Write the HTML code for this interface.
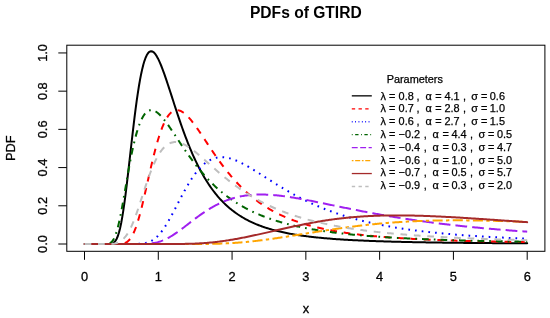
<!DOCTYPE html>
<html><head><meta charset="utf-8"><title>PDFs of GTIRD</title>
<style>
html,body{margin:0;padding:0;background:#fff;}
svg{display:block;font-family:"Liberation Sans",sans-serif;fill:#000;}
.c{fill:none;stroke-linejoin:round;}
.ax{fill:none;stroke:#000;stroke-width:1;stroke-linecap:butt;}
.t{font-size:12.8px;stroke:#000;stroke-width:0.3px;}
.l{font-size:10.9px;stroke:#000;stroke-width:0.25px;}
</style></head><body>
<svg width="550" height="318" viewBox="0 0 550 318">
<rect width="550" height="318" fill="#fff"/>
<polyline class="c" stroke="#000000" stroke-width="2.0" stroke-linecap="round" points="84.58,244.00 85.69,244.00 86.80,244.00 87.91,244.00 89.02,244.00 90.13,244.00 91.24,244.00 92.35,244.00 93.46,244.00 94.56,244.00 95.67,244.00 96.78,244.00 97.89,244.00 99.00,244.00 100.11,244.00 101.22,244.00 102.33,244.00 103.44,244.00 104.55,244.00 105.66,244.00 106.77,244.00 107.88,243.99 108.99,243.96 110.10,243.89 111.20,243.73 112.31,243.42 113.42,242.87 114.53,241.97 115.64,240.61 116.75,238.65 117.86,235.99 118.97,232.53 120.08,228.20 121.19,222.98 122.30,216.87 123.41,209.92 124.52,202.18 125.63,193.77 126.73,184.79 127.84,175.39 128.95,165.70 130.06,155.86 131.17,146.01 132.28,136.27 133.39,126.78 134.50,117.63 135.61,108.91 136.72,100.69 137.83,93.05 138.94,86.02 140.05,79.64 141.16,73.92 142.26,68.88 143.37,64.51 144.48,60.81 145.59,57.75 146.70,55.32 147.81,53.48 148.92,52.20 150.03,51.46 151.14,51.21 152.25,51.43 153.36,52.07 154.47,53.09 155.58,54.47 156.69,56.17 157.80,58.15 158.90,60.39 160.01,62.85 161.12,65.51 162.23,68.34 163.34,71.31 164.45,74.40 165.56,77.59 166.67,80.86 167.78,84.20 168.89,87.58 170.00,91.00 171.11,94.43 172.22,97.87 173.33,101.31 174.43,104.73 175.54,108.14 176.65,111.51 177.76,114.85 178.87,118.14 179.98,121.39 181.09,124.59 182.20,127.74 183.31,130.83 184.42,133.86 185.53,136.83 186.64,139.73 187.75,142.57 188.86,145.35 189.96,148.05 191.07,150.70 192.18,153.28 193.29,155.79 194.40,158.24 195.51,160.62 196.62,162.94 197.73,165.19 198.84,167.39 199.95,169.52 201.06,171.59 202.17,173.60 203.28,175.56 204.39,177.45 205.50,179.30 206.60,181.09 207.71,182.82 208.82,184.51 209.93,186.14 211.04,187.73 212.15,189.27 213.26,190.76 214.37,192.20 215.48,193.61 216.59,194.97 217.70,196.29 218.81,197.57 219.92,198.81 221.03,200.01 222.13,201.18 223.24,202.31 224.35,203.41 225.46,204.48 226.57,205.51 227.68,206.51 228.79,207.48 229.90,208.42 231.01,209.34 232.12,210.22 233.23,211.08 234.34,211.92 235.45,212.73 236.56,213.51 237.66,214.28 238.77,215.01 239.88,215.73 240.99,216.43 242.10,217.11 243.21,217.76 244.32,218.40 245.43,219.02 246.54,219.62 247.65,220.20 248.76,220.77 249.87,221.32 250.98,221.85 252.09,222.37 253.20,222.88 254.30,223.37 255.41,223.85 256.52,224.31 257.63,224.76 258.74,225.20 259.85,225.62 260.96,226.04 262.07,226.44 263.18,226.83 264.29,227.21 265.40,227.58 266.51,227.94 267.62,228.29 268.73,228.64 269.83,228.97 270.94,229.29 272.05,229.61 273.16,229.91 274.27,230.21 275.38,230.50 276.49,230.78 277.60,231.06 278.71,231.33 279.82,231.59 280.93,231.84 282.04,232.09 283.15,232.34 284.26,232.57 285.36,232.80 286.47,233.03 287.58,233.24 288.69,233.46 289.80,233.66 290.91,233.87 292.02,234.06 293.13,234.26 294.24,234.45 295.35,234.63 296.46,234.81 297.57,234.98 298.68,235.15 299.79,235.32 300.90,235.48 302.00,235.64 303.11,235.80 304.22,235.95 305.33,236.10 306.44,236.24 307.55,236.38 308.66,236.52 309.77,236.65 310.88,236.79 311.99,236.91 313.10,237.04 314.21,237.16 315.32,237.28 316.43,237.40 317.53,237.51 318.64,237.63 319.75,237.74 320.86,237.84 321.97,237.95 323.08,238.05 324.19,238.15 325.30,238.25 326.41,238.35 327.52,238.44 328.63,238.53 329.74,238.62 330.85,238.71 331.96,238.80 333.06,238.88 334.17,238.97 335.28,239.05 336.39,239.13 337.50,239.20 338.61,239.28 339.72,239.35 340.83,239.43 341.94,239.50 343.05,239.57 344.16,239.64 345.27,239.71 346.38,239.77 347.49,239.84 348.60,239.90 349.70,239.96 350.81,240.02 351.92,240.08 353.03,240.14 354.14,240.20 355.25,240.26 356.36,240.31 357.47,240.36 358.58,240.42 359.69,240.47 360.80,240.52 361.91,240.57 363.02,240.62 364.13,240.67 365.23,240.72 366.34,240.76 367.45,240.81 368.56,240.85 369.67,240.90 370.78,240.94 371.89,240.98 373.00,241.03 374.11,241.07 375.22,241.11 376.33,241.15 377.44,241.19 378.55,241.22 379.66,241.26 380.76,241.30 381.87,241.33 382.98,241.37 384.09,241.40 385.20,241.44 386.31,241.47 387.42,241.51 388.53,241.54 389.64,241.57 390.75,241.60 391.86,241.63 392.97,241.66 394.08,241.69 395.19,241.72 396.29,241.75 397.40,241.78 398.51,241.81 399.62,241.83 400.73,241.86 401.84,241.89 402.95,241.91 404.06,241.94 405.17,241.97 406.28,241.99 407.39,242.01 408.50,242.04 409.61,242.06 410.72,242.09 411.83,242.11 412.93,242.13 414.04,242.15 415.15,242.18 416.26,242.20 417.37,242.22 418.48,242.24 419.59,242.26 420.70,242.28 421.81,242.30 422.92,242.32 424.03,242.34 425.14,242.36 426.25,242.38 427.36,242.40 428.46,242.41 429.57,242.43 430.68,242.45 431.79,242.47 432.90,242.48 434.01,242.50 435.12,242.52 436.23,242.53 437.34,242.55 438.45,242.57 439.56,242.58 440.67,242.60 441.78,242.61 442.89,242.63 443.99,242.64 445.10,242.66 446.21,242.67 447.32,242.68 448.43,242.70 449.54,242.71 450.65,242.73 451.76,242.74 452.87,242.75 453.98,242.77 455.09,242.78 456.20,242.79 457.31,242.80 458.42,242.82 459.53,242.83 460.63,242.84 461.74,242.85 462.85,242.86 463.96,242.88 465.07,242.89 466.18,242.90 467.29,242.91 468.40,242.92 469.51,242.93 470.62,242.94 471.73,242.95 472.84,242.96 473.95,242.97 475.06,242.98 476.16,242.99 477.27,243.00 478.38,243.01 479.49,243.02 480.60,243.03 481.71,243.04 482.82,243.05 483.93,243.06 485.04,243.07 486.15,243.08 487.26,243.08 488.37,243.09 489.48,243.10 490.59,243.11 491.69,243.12 492.80,243.13 493.91,243.14 495.02,243.14 496.13,243.15 497.24,243.16 498.35,243.17 499.46,243.17 500.57,243.18 501.68,243.19 502.79,243.20 503.90,243.20 505.01,243.21 506.12,243.22 507.23,243.22 508.33,243.23 509.44,243.24 510.55,243.25 511.66,243.25 512.77,243.26 513.88,243.27 514.99,243.27 516.10,243.28 517.21,243.28 518.32,243.29 519.43,243.30 520.54,243.30 521.65,243.31 522.76,243.31 523.86,243.32 524.97,243.33 526.08,243.33 527.19,243.34"/>
<polyline class="c" stroke="#ff0000" stroke-width="2.0" stroke-dasharray="6.72,6.72" points="84.58,244.00 85.69,244.00 86.80,244.00 87.91,244.00 89.02,244.00 90.13,244.00 91.24,244.00 92.35,244.00 93.46,244.00 94.56,244.00 95.67,244.00 96.78,244.00 97.89,244.00 99.00,244.00 100.11,244.00 101.22,244.00 102.33,244.00 103.44,244.00 104.55,244.00 105.66,244.00 106.77,244.00 107.88,244.00 108.99,244.00 110.10,244.00 111.20,244.00 112.31,244.00 113.42,244.00 114.53,244.00 115.64,244.00 116.75,243.99 117.86,243.98 118.97,243.95 120.08,243.90 121.19,243.82 122.30,243.69 123.41,243.48 124.52,243.17 125.63,242.72 126.73,242.12 127.84,241.32 128.95,240.29 130.06,239.01 131.17,237.45 132.28,235.58 133.39,233.40 134.50,230.89 135.61,228.06 136.72,224.92 137.83,221.46 138.94,217.72 140.05,213.71 141.16,209.47 142.26,205.03 143.37,200.41 144.48,195.67 145.59,190.82 146.70,185.92 147.81,180.99 148.92,176.07 150.03,171.19 151.14,166.39 152.25,161.70 153.36,157.13 154.47,152.71 155.58,148.47 156.69,144.42 157.80,140.58 158.90,136.95 160.01,133.55 161.12,130.38 162.23,127.45 163.34,124.76 164.45,122.31 165.56,120.11 166.67,118.14 167.78,116.40 168.89,114.89 170.00,113.60 171.11,112.53 172.22,111.67 173.33,111.01 174.43,110.54 175.54,110.25 176.65,110.13 177.76,110.17 178.87,110.37 179.98,110.72 181.09,111.20 182.20,111.81 183.31,112.53 184.42,113.37 185.53,114.30 186.64,115.33 187.75,116.45 188.86,117.64 189.96,118.90 191.07,120.22 192.18,121.61 193.29,123.04 194.40,124.52 195.51,126.04 196.62,127.59 197.73,129.17 198.84,130.78 199.95,132.41 201.06,134.05 202.17,135.71 203.28,137.38 204.39,139.05 205.50,140.72 206.60,142.40 207.71,144.08 208.82,145.75 209.93,147.41 211.04,149.07 212.15,150.71 213.26,152.34 214.37,153.96 215.48,155.57 216.59,157.16 217.70,158.73 218.81,160.29 219.92,161.82 221.03,163.34 222.13,164.83 223.24,166.31 224.35,167.76 225.46,169.20 226.57,170.61 227.68,172.00 228.79,173.36 229.90,174.71 231.01,176.03 232.12,177.33 233.23,178.60 234.34,179.86 235.45,181.09 236.56,182.30 237.66,183.48 238.77,184.65 239.88,185.79 240.99,186.91 242.10,188.01 243.21,189.09 244.32,190.14 245.43,191.18 246.54,192.19 247.65,193.19 248.76,194.16 249.87,195.11 250.98,196.05 252.09,196.96 253.20,197.86 254.30,198.74 255.41,199.60 256.52,200.44 257.63,201.27 258.74,202.08 259.85,202.87 260.96,203.64 262.07,204.40 263.18,205.14 264.29,205.87 265.40,206.58 266.51,207.27 267.62,207.95 268.73,208.62 269.83,209.27 270.94,209.91 272.05,210.54 273.16,211.15 274.27,211.75 275.38,212.34 276.49,212.91 277.60,213.47 278.71,214.02 279.82,214.56 280.93,215.09 282.04,215.60 283.15,216.11 284.26,216.60 285.36,217.09 286.47,217.56 287.58,218.03 288.69,218.48 289.80,218.93 290.91,219.36 292.02,219.79 293.13,220.21 294.24,220.62 295.35,221.02 296.46,221.41 297.57,221.79 298.68,222.17 299.79,222.54 300.90,222.90 302.00,223.25 303.11,223.60 304.22,223.94 305.33,224.27 306.44,224.60 307.55,224.92 308.66,225.23 309.77,225.54 310.88,225.84 311.99,226.13 313.10,226.42 314.21,226.70 315.32,226.98 316.43,227.25 317.53,227.52 318.64,227.78 319.75,228.04 320.86,228.29 321.97,228.53 323.08,228.77 324.19,229.01 325.30,229.24 326.41,229.47 327.52,229.69 328.63,229.91 329.74,230.13 330.85,230.34 331.96,230.55 333.06,230.75 334.17,230.95 335.28,231.14 336.39,231.33 337.50,231.52 338.61,231.71 339.72,231.89 340.83,232.07 341.94,232.24 343.05,232.41 344.16,232.58 345.27,232.74 346.38,232.91 347.49,233.07 348.60,233.22 349.70,233.37 350.81,233.53 351.92,233.67 353.03,233.82 354.14,233.96 355.25,234.10 356.36,234.24 357.47,234.37 358.58,234.51 359.69,234.64 360.80,234.77 361.91,234.89 363.02,235.02 364.13,235.14 365.23,235.26 366.34,235.37 367.45,235.49 368.56,235.60 369.67,235.71 370.78,235.82 371.89,235.93 373.00,236.04 374.11,236.14 375.22,236.25 376.33,236.35 377.44,236.44 378.55,236.54 379.66,236.64 380.76,236.73 381.87,236.83 382.98,236.92 384.09,237.01 385.20,237.09 386.31,237.18 387.42,237.27 388.53,237.35 389.64,237.43 390.75,237.51 391.86,237.59 392.97,237.67 394.08,237.75 395.19,237.83 396.29,237.90 397.40,237.98 398.51,238.05 399.62,238.12 400.73,238.19 401.84,238.26 402.95,238.33 404.06,238.40 405.17,238.46 406.28,238.53 407.39,238.59 408.50,238.65 409.61,238.72 410.72,238.78 411.83,238.84 412.93,238.90 414.04,238.96 415.15,239.01 416.26,239.07 417.37,239.13 418.48,239.18 419.59,239.24 420.70,239.29 421.81,239.34 422.92,239.39 424.03,239.45 425.14,239.50 426.25,239.55 427.36,239.60 428.46,239.64 429.57,239.69 430.68,239.74 431.79,239.78 432.90,239.83 434.01,239.88 435.12,239.92 436.23,239.96 437.34,240.01 438.45,240.05 439.56,240.09 440.67,240.13 441.78,240.17 442.89,240.21 443.99,240.25 445.10,240.29 446.21,240.33 447.32,240.37 448.43,240.41 449.54,240.44 450.65,240.48 451.76,240.52 452.87,240.55 453.98,240.59 455.09,240.62 456.20,240.66 457.31,240.69 458.42,240.72 459.53,240.76 460.63,240.79 461.74,240.82 462.85,240.85 463.96,240.88 465.07,240.91 466.18,240.94 467.29,240.97 468.40,241.00 469.51,241.03 470.62,241.06 471.73,241.09 472.84,241.12 473.95,241.15 475.06,241.17 476.16,241.20 477.27,241.23 478.38,241.25 479.49,241.28 480.60,241.30 481.71,241.33 482.82,241.35 483.93,241.38 485.04,241.40 486.15,241.43 487.26,241.45 488.37,241.48 489.48,241.50 490.59,241.52 491.69,241.54 492.80,241.57 493.91,241.59 495.02,241.61 496.13,241.63 497.24,241.65 498.35,241.67 499.46,241.70 500.57,241.72 501.68,241.74 502.79,241.76 503.90,241.78 505.01,241.80 506.12,241.82 507.23,241.83 508.33,241.85 509.44,241.87 510.55,241.89 511.66,241.91 512.77,241.93 513.88,241.95 514.99,241.96 516.10,241.98 517.21,242.00 518.32,242.02 519.43,242.03 520.54,242.05 521.65,242.07 522.76,242.08 523.86,242.10 524.97,242.11 526.08,242.13 527.19,242.15"/>
<polyline class="c" stroke="#0000ff" stroke-width="2.0" stroke-dasharray="1.68,5.04" points="84.58,244.00 85.69,244.00 86.80,244.00 87.91,244.00 89.02,244.00 90.13,244.00 91.24,244.00 92.35,244.00 93.46,244.00 94.56,244.00 95.67,244.00 96.78,244.00 97.89,244.00 99.00,244.00 100.11,244.00 101.22,244.00 102.33,244.00 103.44,244.00 104.55,244.00 105.66,244.00 106.77,244.00 107.88,244.00 108.99,244.00 110.10,244.00 111.20,244.00 112.31,244.00 113.42,244.00 114.53,244.00 115.64,244.00 116.75,244.00 117.86,244.00 118.97,244.00 120.08,244.00 121.19,244.00 122.30,244.00 123.41,244.00 124.52,244.00 125.63,244.00 126.73,244.00 127.84,244.00 128.95,244.00 130.06,244.00 131.17,244.00 132.28,243.99 133.39,243.99 134.50,243.98 135.61,243.96 136.72,243.94 137.83,243.91 138.94,243.87 140.05,243.81 141.16,243.73 142.26,243.62 143.37,243.48 144.48,243.30 145.59,243.07 146.70,242.80 147.81,242.47 148.92,242.07 150.03,241.61 151.14,241.07 152.25,240.44 153.36,239.74 154.47,238.94 155.58,238.05 156.69,237.06 157.80,235.98 158.90,234.81 160.01,233.54 161.12,232.17 162.23,230.72 163.34,229.17 164.45,227.55 165.56,225.84 166.67,224.06 167.78,222.21 168.89,220.30 170.00,218.34 171.11,216.33 172.22,214.27 173.33,212.19 174.43,210.07 175.54,207.94 176.65,205.80 177.76,203.65 178.87,201.50 179.98,199.37 181.09,197.24 182.20,195.14 183.31,193.07 184.42,191.03 185.53,189.03 186.64,187.06 187.75,185.15 188.86,183.29 189.96,181.47 191.07,179.72 192.18,178.03 193.29,176.40 194.40,174.83 195.51,173.33 196.62,171.89 197.73,170.53 198.84,169.23 199.95,168.01 201.06,166.85 202.17,165.77 203.28,164.75 204.39,163.80 205.50,162.93 206.60,162.12 207.71,161.38 208.82,160.70 209.93,160.09 211.04,159.54 212.15,159.06 213.26,158.63 214.37,158.27 215.48,157.96 216.59,157.71 217.70,157.51 218.81,157.36 219.92,157.27 221.03,157.22 222.13,157.22 223.24,157.27 224.35,157.36 225.46,157.49 226.57,157.66 227.68,157.87 228.79,158.11 229.90,158.39 231.01,158.71 232.12,159.05 233.23,159.42 234.34,159.82 235.45,160.25 236.56,160.70 237.66,161.18 238.77,161.68 239.88,162.20 240.99,162.74 242.10,163.29 243.21,163.86 244.32,164.45 245.43,165.06 246.54,165.67 247.65,166.30 248.76,166.94 249.87,167.59 250.98,168.25 252.09,168.92 253.20,169.60 254.30,170.28 255.41,170.97 256.52,171.66 257.63,172.36 258.74,173.06 259.85,173.76 260.96,174.47 262.07,175.18 263.18,175.89 264.29,176.60 265.40,177.31 266.51,178.02 267.62,178.73 268.73,179.44 269.83,180.15 270.94,180.85 272.05,181.55 273.16,182.25 274.27,182.95 275.38,183.64 276.49,184.33 277.60,185.02 278.71,185.70 279.82,186.38 280.93,187.05 282.04,187.72 283.15,188.39 284.26,189.04 285.36,189.70 286.47,190.35 287.58,190.99 288.69,191.62 289.80,192.26 290.91,192.88 292.02,193.50 293.13,194.11 294.24,194.72 295.35,195.32 296.46,195.92 297.57,196.51 298.68,197.09 299.79,197.67 300.90,198.24 302.00,198.80 303.11,199.36 304.22,199.91 305.33,200.46 306.44,200.99 307.55,201.53 308.66,202.05 309.77,202.57 310.88,203.09 311.99,203.59 313.10,204.09 314.21,204.59 315.32,205.08 316.43,205.56 317.53,206.04 318.64,206.51 319.75,206.97 320.86,207.43 321.97,207.88 323.08,208.33 324.19,208.77 325.30,209.21 326.41,209.64 327.52,210.06 328.63,210.48 329.74,210.89 330.85,211.30 331.96,211.70 333.06,212.10 334.17,212.49 335.28,212.88 336.39,213.26 337.50,213.63 338.61,214.01 339.72,214.37 340.83,214.73 341.94,215.09 343.05,215.44 344.16,215.78 345.27,216.13 346.38,216.46 347.49,216.79 348.60,217.12 349.70,217.45 350.81,217.76 351.92,218.08 353.03,218.39 354.14,218.69 355.25,219.00 356.36,219.29 357.47,219.59 358.58,219.88 359.69,220.16 360.80,220.44 361.91,220.72 363.02,220.99 364.13,221.26 365.23,221.53 366.34,221.79 367.45,222.05 368.56,222.31 369.67,222.56 370.78,222.81 371.89,223.05 373.00,223.29 374.11,223.53 375.22,223.77 376.33,224.00 377.44,224.23 378.55,224.45 379.66,224.67 380.76,224.89 381.87,225.11 382.98,225.32 384.09,225.53 385.20,225.74 386.31,225.95 387.42,226.15 388.53,226.35 389.64,226.54 390.75,226.74 391.86,226.93 392.97,227.12 394.08,227.30 395.19,227.49 396.29,227.67 397.40,227.85 398.51,228.02 399.62,228.20 400.73,228.37 401.84,228.54 402.95,228.71 404.06,228.87 405.17,229.04 406.28,229.20 407.39,229.35 408.50,229.51 409.61,229.66 410.72,229.82 411.83,229.97 412.93,230.12 414.04,230.26 415.15,230.41 416.26,230.55 417.37,230.69 418.48,230.83 419.59,230.97 420.70,231.10 421.81,231.23 422.92,231.37 424.03,231.50 425.14,231.63 426.25,231.75 427.36,231.88 428.46,232.00 429.57,232.12 430.68,232.24 431.79,232.36 432.90,232.48 434.01,232.60 435.12,232.71 436.23,232.82 437.34,232.93 438.45,233.05 439.56,233.15 440.67,233.26 441.78,233.37 442.89,233.47 443.99,233.58 445.10,233.68 446.21,233.78 447.32,233.88 448.43,233.98 449.54,234.07 450.65,234.17 451.76,234.27 452.87,234.36 453.98,234.45 455.09,234.54 456.20,234.63 457.31,234.72 458.42,234.81 459.53,234.90 460.63,234.98 461.74,235.07 462.85,235.15 463.96,235.24 465.07,235.32 466.18,235.40 467.29,235.48 468.40,235.56 469.51,235.64 470.62,235.71 471.73,235.79 472.84,235.86 473.95,235.94 475.06,236.01 476.16,236.09 477.27,236.16 478.38,236.23 479.49,236.30 480.60,236.37 481.71,236.44 482.82,236.50 483.93,236.57 485.04,236.64 486.15,236.70 487.26,236.77 488.37,236.83 489.48,236.90 490.59,236.96 491.69,237.02 492.80,237.08 493.91,237.14 495.02,237.20 496.13,237.26 497.24,237.32 498.35,237.38 499.46,237.43 500.57,237.49 501.68,237.55 502.79,237.60 503.90,237.66 505.01,237.71 506.12,237.76 507.23,237.82 508.33,237.87 509.44,237.92 510.55,237.97 511.66,238.02 512.77,238.07 513.88,238.12 514.99,238.17 516.10,238.22 517.21,238.27 518.32,238.32 519.43,238.36 520.54,238.41 521.65,238.46 522.76,238.50 523.86,238.55 524.97,238.59 526.08,238.63 527.19,238.68"/>
<polyline class="c" stroke="#006400" stroke-width="2.0" stroke-dasharray="1.68,5.04,6.72,5.04" points="84.58,244.00 85.69,244.00 86.80,244.00 87.91,244.00 89.02,244.00 90.13,244.00 91.24,244.00 92.35,244.00 93.46,244.00 94.56,244.00 95.67,244.00 96.78,244.00 97.89,244.00 99.00,244.00 100.11,244.00 101.22,244.00 102.33,244.00 103.44,244.00 104.55,243.99 105.66,243.98 106.77,243.93 107.88,243.82 108.99,243.58 110.10,243.14 111.20,242.41 112.31,241.28 113.42,239.67 114.53,237.49 115.64,234.70 116.75,231.28 117.86,227.24 118.97,222.61 120.08,217.46 121.19,211.87 122.30,205.93 123.41,199.72 124.52,193.36 125.63,186.92 126.73,180.50 127.84,174.16 128.95,167.98 130.06,162.02 131.17,156.31 132.28,150.90 133.39,145.81 134.50,141.06 135.61,136.67 136.72,132.64 137.83,128.98 138.94,125.68 140.05,122.74 141.16,120.15 142.26,117.89 143.37,115.95 144.48,114.32 145.59,112.98 146.70,111.92 147.81,111.12 148.92,110.57 150.03,110.24 151.14,110.12 152.25,110.20 153.36,110.46 154.47,110.89 155.58,111.47 156.69,112.19 157.80,113.03 158.90,113.99 160.01,115.05 161.12,116.21 162.23,117.45 163.34,118.76 164.45,120.14 165.56,121.58 166.67,123.06 167.78,124.59 168.89,126.15 170.00,127.74 171.11,129.36 172.22,131.00 173.33,132.66 174.43,134.32 175.54,135.99 176.65,137.67 177.76,139.35 178.87,141.02 179.98,142.69 181.09,144.35 182.20,146.01 183.31,147.65 184.42,149.28 185.53,150.89 186.64,152.49 187.75,154.07 188.86,155.63 189.96,157.18 191.07,158.70 192.18,160.21 193.29,161.69 194.40,163.15 195.51,164.59 196.62,166.01 197.73,167.40 198.84,168.77 199.95,170.12 201.06,171.45 202.17,172.75 203.28,174.03 204.39,175.29 205.50,176.52 206.60,177.74 207.71,178.93 208.82,180.09 209.93,181.24 211.04,182.36 212.15,183.47 213.26,184.55 214.37,185.61 215.48,186.65 216.59,187.67 217.70,188.67 218.81,189.65 219.92,190.61 221.03,191.55 222.13,192.47 223.24,193.38 224.35,194.26 225.46,195.13 226.57,195.98 227.68,196.81 228.79,197.63 229.90,198.43 231.01,199.21 232.12,199.98 233.23,200.74 234.34,201.47 235.45,202.20 236.56,202.90 237.66,203.60 238.77,204.28 239.88,204.94 240.99,205.60 242.10,206.24 243.21,206.86 244.32,207.48 245.43,208.08 246.54,208.67 247.65,209.25 248.76,209.81 249.87,210.37 250.98,210.91 252.09,211.45 253.20,211.97 254.30,212.48 255.41,212.98 256.52,213.48 257.63,213.96 258.74,214.43 259.85,214.90 260.96,215.35 262.07,215.80 263.18,216.24 264.29,216.67 265.40,217.09 266.51,217.50 267.62,217.91 268.73,218.30 269.83,218.69 270.94,219.07 272.05,219.45 273.16,219.82 274.27,220.18 275.38,220.53 276.49,220.88 277.60,221.22 278.71,221.56 279.82,221.89 280.93,222.21 282.04,222.52 283.15,222.84 284.26,223.14 285.36,223.44 286.47,223.73 287.58,224.02 288.69,224.31 289.80,224.59 290.91,224.86 292.02,225.13 293.13,225.39 294.24,225.65 295.35,225.90 296.46,226.15 297.57,226.40 298.68,226.64 299.79,226.88 300.90,227.11 302.00,227.34 303.11,227.56 304.22,227.79 305.33,228.00 306.44,228.22 307.55,228.43 308.66,228.63 309.77,228.83 310.88,229.03 311.99,229.23 313.10,229.42 314.21,229.61 315.32,229.80 316.43,229.98 317.53,230.16 318.64,230.34 319.75,230.51 320.86,230.68 321.97,230.85 323.08,231.02 324.19,231.18 325.30,231.34 326.41,231.50 327.52,231.66 328.63,231.81 329.74,231.96 330.85,232.11 331.96,232.25 333.06,232.40 334.17,232.54 335.28,232.68 336.39,232.81 337.50,232.95 338.61,233.08 339.72,233.21 340.83,233.34 341.94,233.46 343.05,233.59 344.16,233.71 345.27,233.83 346.38,233.95 347.49,234.07 348.60,234.18 349.70,234.30 350.81,234.41 351.92,234.52 353.03,234.63 354.14,234.73 355.25,234.84 356.36,234.94 357.47,235.05 358.58,235.15 359.69,235.25 360.80,235.34 361.91,235.44 363.02,235.53 364.13,235.63 365.23,235.72 366.34,235.81 367.45,235.90 368.56,235.99 369.67,236.08 370.78,236.16 371.89,236.25 373.00,236.33 374.11,236.41 375.22,236.49 376.33,236.57 377.44,236.65 378.55,236.73 379.66,236.81 380.76,236.88 381.87,236.96 382.98,237.03 384.09,237.10 385.20,237.18 386.31,237.25 387.42,237.32 388.53,237.38 389.64,237.45 390.75,237.52 391.86,237.59 392.97,237.65 394.08,237.71 395.19,237.78 396.29,237.84 397.40,237.90 398.51,237.96 399.62,238.02 400.73,238.08 401.84,238.14 402.95,238.20 404.06,238.26 405.17,238.31 406.28,238.37 407.39,238.42 408.50,238.48 409.61,238.53 410.72,238.58 411.83,238.64 412.93,238.69 414.04,238.74 415.15,238.79 416.26,238.84 417.37,238.89 418.48,238.94 419.59,238.98 420.70,239.03 421.81,239.08 422.92,239.12 424.03,239.17 425.14,239.21 426.25,239.26 427.36,239.30 428.46,239.35 429.57,239.39 430.68,239.43 431.79,239.47 432.90,239.51 434.01,239.55 435.12,239.59 436.23,239.63 437.34,239.67 438.45,239.71 439.56,239.75 440.67,239.79 441.78,239.83 442.89,239.86 443.99,239.90 445.10,239.94 446.21,239.97 447.32,240.01 448.43,240.04 449.54,240.08 450.65,240.11 451.76,240.14 452.87,240.18 453.98,240.21 455.09,240.24 456.20,240.28 457.31,240.31 458.42,240.34 459.53,240.37 460.63,240.40 461.74,240.43 462.85,240.46 463.96,240.49 465.07,240.52 466.18,240.55 467.29,240.58 468.40,240.61 469.51,240.64 470.62,240.66 471.73,240.69 472.84,240.72 473.95,240.75 475.06,240.77 476.16,240.80 477.27,240.82 478.38,240.85 479.49,240.88 480.60,240.90 481.71,240.93 482.82,240.95 483.93,240.98 485.04,241.00 486.15,241.02 487.26,241.05 488.37,241.07 489.48,241.09 490.59,241.12 491.69,241.14 492.80,241.16 493.91,241.18 495.02,241.21 496.13,241.23 497.24,241.25 498.35,241.27 499.46,241.29 500.57,241.31 501.68,241.33 502.79,241.36 503.90,241.38 505.01,241.40 506.12,241.42 507.23,241.44 508.33,241.45 509.44,241.47 510.55,241.49 511.66,241.51 512.77,241.53 513.88,241.55 514.99,241.57 516.10,241.59 517.21,241.60 518.32,241.62 519.43,241.64 520.54,241.66 521.65,241.67 522.76,241.69 523.86,241.71 524.97,241.72 526.08,241.74 527.19,241.76"/>
<polyline class="c" stroke="#a020f0" stroke-width="2.0" stroke-dasharray="11.76,5.04" points="84.58,244.00 85.69,244.00 86.80,244.00 87.91,244.00 89.02,244.00 90.13,244.00 91.24,244.00 92.35,244.00 93.46,244.00 94.56,244.00 95.67,244.00 96.78,244.00 97.89,244.00 99.00,244.00 100.11,244.00 101.22,244.00 102.33,244.00 103.44,244.00 104.55,244.00 105.66,244.00 106.77,244.00 107.88,244.00 108.99,244.00 110.10,244.00 111.20,244.00 112.31,244.00 113.42,244.00 114.53,244.00 115.64,244.00 116.75,244.00 117.86,244.00 118.97,244.00 120.08,244.00 121.19,244.00 122.30,244.00 123.41,244.00 124.52,244.00 125.63,244.00 126.73,244.00 127.84,244.00 128.95,244.00 130.06,244.00 131.17,244.00 132.28,244.00 133.39,244.00 134.50,244.00 135.61,244.00 136.72,243.99 137.83,243.99 138.94,243.98 140.05,243.97 141.16,243.96 142.26,243.94 143.37,243.91 144.48,243.88 145.59,243.83 146.70,243.77 147.81,243.70 148.92,243.62 150.03,243.51 151.14,243.39 152.25,243.24 153.36,243.07 154.47,242.88 155.58,242.65 156.69,242.40 157.80,242.12 158.90,241.81 160.01,241.46 161.12,241.08 162.23,240.67 163.34,240.23 164.45,239.76 165.56,239.25 166.67,238.71 167.78,238.14 168.89,237.54 170.00,236.92 171.11,236.26 172.22,235.59 173.33,234.88 174.43,234.16 175.54,233.41 176.65,232.65 177.76,231.87 178.87,231.07 179.98,230.26 181.09,229.44 182.20,228.61 183.31,227.77 184.42,226.92 185.53,226.07 186.64,225.21 187.75,224.36 188.86,223.50 189.96,222.64 191.07,221.79 192.18,220.94 193.29,220.09 194.40,219.25 195.51,218.42 196.62,217.59 197.73,216.78 198.84,215.97 199.95,215.17 201.06,214.39 202.17,213.61 203.28,212.85 204.39,212.11 205.50,211.37 206.60,210.65 207.71,209.95 208.82,209.25 209.93,208.58 211.04,207.92 212.15,207.28 213.26,206.65 214.37,206.04 215.48,205.44 216.59,204.87 217.70,204.30 218.81,203.76 219.92,203.23 221.03,202.72 222.13,202.23 223.24,201.75 224.35,201.29 225.46,200.85 226.57,200.43 227.68,200.02 228.79,199.62 229.90,199.25 231.01,198.89 232.12,198.54 233.23,198.22 234.34,197.90 235.45,197.61 236.56,197.33 237.66,197.06 238.77,196.81 239.88,196.57 240.99,196.35 242.10,196.14 243.21,195.95 244.32,195.77 245.43,195.60 246.54,195.45 247.65,195.31 248.76,195.18 249.87,195.07 250.98,194.96 252.09,194.87 253.20,194.79 254.30,194.72 255.41,194.67 256.52,194.62 257.63,194.59 258.74,194.56 259.85,194.55 260.96,194.54 262.07,194.55 263.18,194.56 264.29,194.58 265.40,194.61 266.51,194.65 267.62,194.70 268.73,194.76 269.83,194.82 270.94,194.89 272.05,194.97 273.16,195.06 274.27,195.15 275.38,195.25 276.49,195.36 277.60,195.47 278.71,195.59 279.82,195.71 280.93,195.84 282.04,195.98 283.15,196.12 284.26,196.26 285.36,196.41 286.47,196.57 287.58,196.73 288.69,196.89 289.80,197.06 290.91,197.23 292.02,197.41 293.13,197.59 294.24,197.77 295.35,197.95 296.46,198.14 297.57,198.34 298.68,198.53 299.79,198.73 300.90,198.93 302.00,199.13 303.11,199.33 304.22,199.54 305.33,199.75 306.44,199.96 307.55,200.17 308.66,200.39 309.77,200.61 310.88,200.82 311.99,201.04 313.10,201.26 314.21,201.48 315.32,201.71 316.43,201.93 317.53,202.16 318.64,202.38 319.75,202.61 320.86,202.84 321.97,203.06 323.08,203.29 324.19,203.52 325.30,203.75 326.41,203.98 327.52,204.21 328.63,204.44 329.74,204.67 330.85,204.90 331.96,205.13 333.06,205.36 334.17,205.59 335.28,205.82 336.39,206.05 337.50,206.28 338.61,206.51 339.72,206.74 340.83,206.96 341.94,207.19 343.05,207.42 344.16,207.65 345.27,207.87 346.38,208.10 347.49,208.32 348.60,208.55 349.70,208.77 350.81,209.00 351.92,209.22 353.03,209.44 354.14,209.66 355.25,209.88 356.36,210.10 357.47,210.32 358.58,210.54 359.69,210.76 360.80,210.97 361.91,211.19 363.02,211.40 364.13,211.61 365.23,211.83 366.34,212.04 367.45,212.25 368.56,212.46 369.67,212.67 370.78,212.87 371.89,213.08 373.00,213.28 374.11,213.49 375.22,213.69 376.33,213.89 377.44,214.09 378.55,214.29 379.66,214.49 380.76,214.69 381.87,214.88 382.98,215.08 384.09,215.27 385.20,215.47 386.31,215.66 387.42,215.85 388.53,216.04 389.64,216.23 390.75,216.41 391.86,216.60 392.97,216.78 394.08,216.97 395.19,217.15 396.29,217.33 397.40,217.51 398.51,217.69 399.62,217.87 400.73,218.04 401.84,218.22 402.95,218.39 404.06,218.56 405.17,218.74 406.28,218.91 407.39,219.08 408.50,219.24 409.61,219.41 410.72,219.58 411.83,219.74 412.93,219.91 414.04,220.07 415.15,220.23 416.26,220.39 417.37,220.55 418.48,220.71 419.59,220.86 420.70,221.02 421.81,221.18 422.92,221.33 424.03,221.48 425.14,221.63 426.25,221.78 427.36,221.93 428.46,222.08 429.57,222.23 430.68,222.37 431.79,222.52 432.90,222.66 434.01,222.80 435.12,222.95 436.23,223.09 437.34,223.23 438.45,223.37 439.56,223.50 440.67,223.64 441.78,223.78 442.89,223.91 443.99,224.04 445.10,224.18 446.21,224.31 447.32,224.44 448.43,224.57 449.54,224.70 450.65,224.82 451.76,224.95 452.87,225.08 453.98,225.20 455.09,225.33 456.20,225.45 457.31,225.57 458.42,225.69 459.53,225.81 460.63,225.93 461.74,226.05 462.85,226.17 463.96,226.28 465.07,226.40 466.18,226.52 467.29,226.63 468.40,226.74 469.51,226.85 470.62,226.97 471.73,227.08 472.84,227.19 473.95,227.30 475.06,227.40 476.16,227.51 477.27,227.62 478.38,227.72 479.49,227.83 480.60,227.93 481.71,228.03 482.82,228.14 483.93,228.24 485.04,228.34 486.15,228.44 487.26,228.54 488.37,228.64 489.48,228.74 490.59,228.83 491.69,228.93 492.80,229.03 493.91,229.12 495.02,229.21 496.13,229.31 497.24,229.40 498.35,229.49 499.46,229.58 500.57,229.68 501.68,229.77 502.79,229.85 503.90,229.94 505.01,230.03 506.12,230.12 507.23,230.21 508.33,230.29 509.44,230.38 510.55,230.46 511.66,230.55 512.77,230.63 513.88,230.71 514.99,230.79 516.10,230.88 517.21,230.96 518.32,231.04 519.43,231.12 520.54,231.20 521.65,231.27 522.76,231.35 523.86,231.43 524.97,231.51 526.08,231.58 527.19,231.66"/>
<polyline class="c" stroke="#ffa500" stroke-width="2.0" stroke-dasharray="3.36,3.36,10.08,3.36" points="84.58,244.00 85.69,244.00 86.80,244.00 87.91,244.00 89.02,244.00 90.13,244.00 91.24,244.00 92.35,244.00 93.46,244.00 94.56,244.00 95.67,244.00 96.78,244.00 97.89,244.00 99.00,244.00 100.11,244.00 101.22,244.00 102.33,244.00 103.44,244.00 104.55,244.00 105.66,244.00 106.77,244.00 107.88,244.00 108.99,244.00 110.10,244.00 111.20,244.00 112.31,244.00 113.42,244.00 114.53,244.00 115.64,244.00 116.75,244.00 117.86,244.00 118.97,244.00 120.08,244.00 121.19,244.00 122.30,244.00 123.41,244.00 124.52,244.00 125.63,244.00 126.73,244.00 127.84,244.00 128.95,244.00 130.06,244.00 131.17,244.00 132.28,244.00 133.39,244.00 134.50,244.00 135.61,244.00 136.72,244.00 137.83,244.00 138.94,244.00 140.05,244.00 141.16,244.00 142.26,244.00 143.37,244.00 144.48,244.00 145.59,244.00 146.70,244.00 147.81,244.00 148.92,244.00 150.03,244.00 151.14,244.00 152.25,244.00 153.36,244.00 154.47,244.00 155.58,244.00 156.69,244.00 157.80,244.00 158.90,244.00 160.01,244.00 161.12,244.00 162.23,244.00 163.34,244.00 164.45,244.00 165.56,244.00 166.67,244.00 167.78,244.00 168.89,244.00 170.00,244.00 171.11,244.00 172.22,244.00 173.33,244.00 174.43,244.00 175.54,244.00 176.65,244.00 177.76,244.00 178.87,244.00 179.98,244.00 181.09,244.00 182.20,244.00 183.31,244.00 184.42,244.00 185.53,244.00 186.64,244.00 187.75,244.00 188.86,243.99 189.96,243.99 191.07,243.99 192.18,243.99 193.29,243.99 194.40,243.99 195.51,243.98 196.62,243.98 197.73,243.97 198.84,243.97 199.95,243.96 201.06,243.96 202.17,243.95 203.28,243.94 204.39,243.93 205.50,243.92 206.60,243.91 207.71,243.90 208.82,243.88 209.93,243.86 211.04,243.85 212.15,243.83 213.26,243.80 214.37,243.78 215.48,243.75 216.59,243.73 217.70,243.70 218.81,243.66 219.92,243.63 221.03,243.59 222.13,243.55 223.24,243.51 224.35,243.47 225.46,243.42 226.57,243.37 227.68,243.31 228.79,243.26 229.90,243.20 231.01,243.14 232.12,243.07 233.23,243.00 234.34,242.93 235.45,242.86 236.56,242.78 237.66,242.70 238.77,242.61 239.88,242.53 240.99,242.44 242.10,242.34 243.21,242.25 244.32,242.15 245.43,242.05 246.54,241.94 247.65,241.84 248.76,241.72 249.87,241.61 250.98,241.50 252.09,241.38 253.20,241.26 254.30,241.13 255.41,241.00 256.52,240.88 257.63,240.74 258.74,240.61 259.85,240.47 260.96,240.34 262.07,240.19 263.18,240.05 264.29,239.91 265.40,239.76 266.51,239.61 267.62,239.46 268.73,239.31 269.83,239.15 270.94,239.00 272.05,238.84 273.16,238.68 274.27,238.52 275.38,238.36 276.49,238.19 277.60,238.03 278.71,237.86 279.82,237.69 280.93,237.53 282.04,237.36 283.15,237.19 284.26,237.01 285.36,236.84 286.47,236.67 287.58,236.49 288.69,236.32 289.80,236.14 290.91,235.97 292.02,235.79 293.13,235.61 294.24,235.43 295.35,235.26 296.46,235.08 297.57,234.90 298.68,234.72 299.79,234.54 300.90,234.36 302.00,234.18 303.11,234.00 304.22,233.82 305.33,233.64 306.44,233.46 307.55,233.28 308.66,233.11 309.77,232.93 310.88,232.75 311.99,232.57 313.10,232.39 314.21,232.21 315.32,232.04 316.43,231.86 317.53,231.68 318.64,231.51 319.75,231.33 320.86,231.16 321.97,230.99 323.08,230.81 324.19,230.64 325.30,230.47 326.41,230.30 327.52,230.13 328.63,229.96 329.74,229.79 330.85,229.63 331.96,229.46 333.06,229.30 334.17,229.13 335.28,228.97 336.39,228.81 337.50,228.65 338.61,228.49 339.72,228.33 340.83,228.18 341.94,228.02 343.05,227.87 344.16,227.71 345.27,227.56 346.38,227.41 347.49,227.26 348.60,227.11 349.70,226.97 350.81,226.82 351.92,226.68 353.03,226.54 354.14,226.40 355.25,226.26 356.36,226.12 357.47,225.99 358.58,225.85 359.69,225.72 360.80,225.59 361.91,225.46 363.02,225.33 364.13,225.21 365.23,225.08 366.34,224.96 367.45,224.84 368.56,224.72 369.67,224.60 370.78,224.48 371.89,224.37 373.00,224.26 374.11,224.14 375.22,224.04 376.33,223.93 377.44,223.82 378.55,223.72 379.66,223.61 380.76,223.51 381.87,223.41 382.98,223.32 384.09,223.22 385.20,223.13 386.31,223.03 387.42,222.94 388.53,222.85 389.64,222.76 390.75,222.68 391.86,222.59 392.97,222.51 394.08,222.43 395.19,222.35 396.29,222.28 397.40,222.20 398.51,222.13 399.62,222.05 400.73,221.98 401.84,221.91 402.95,221.85 404.06,221.78 405.17,221.72 406.28,221.65 407.39,221.59 408.50,221.53 409.61,221.48 410.72,221.42 411.83,221.36 412.93,221.31 414.04,221.26 415.15,221.21 416.26,221.16 417.37,221.11 418.48,221.07 419.59,221.02 420.70,220.98 421.81,220.94 422.92,220.90 424.03,220.86 425.14,220.83 426.25,220.79 427.36,220.76 428.46,220.73 429.57,220.70 430.68,220.67 431.79,220.64 432.90,220.61 434.01,220.59 435.12,220.56 436.23,220.54 437.34,220.52 438.45,220.50 439.56,220.48 440.67,220.46 441.78,220.44 442.89,220.43 443.99,220.41 445.10,220.40 446.21,220.39 447.32,220.38 448.43,220.37 449.54,220.36 450.65,220.36 451.76,220.35 452.87,220.35 453.98,220.34 455.09,220.34 456.20,220.34 457.31,220.34 458.42,220.34 459.53,220.34 460.63,220.34 461.74,220.35 462.85,220.35 463.96,220.36 465.07,220.37 466.18,220.37 467.29,220.38 468.40,220.39 469.51,220.40 470.62,220.41 471.73,220.43 472.84,220.44 473.95,220.45 475.06,220.47 476.16,220.48 477.27,220.50 478.38,220.52 479.49,220.54 480.60,220.56 481.71,220.58 482.82,220.60 483.93,220.62 485.04,220.64 486.15,220.66 487.26,220.69 488.37,220.71 489.48,220.74 490.59,220.76 491.69,220.79 492.80,220.82 493.91,220.84 495.02,220.87 496.13,220.90 497.24,220.93 498.35,220.96 499.46,220.99 500.57,221.02 501.68,221.06 502.79,221.09 503.90,221.12 505.01,221.16 506.12,221.19 507.23,221.23 508.33,221.26 509.44,221.30 510.55,221.33 511.66,221.37 512.77,221.41 513.88,221.45 514.99,221.48 516.10,221.52 517.21,221.56 518.32,221.60 519.43,221.64 520.54,221.68 521.65,221.72 522.76,221.76 523.86,221.81 524.97,221.85 526.08,221.89 527.19,221.93"/>
<polyline class="c" stroke="#a52a2a" stroke-width="2.0" stroke-linecap="round" points="84.58,244.00 85.69,244.00 86.80,244.00 87.91,244.00 89.02,244.00 90.13,244.00 91.24,244.00 92.35,244.00 93.46,244.00 94.56,244.00 95.67,244.00 96.78,244.00 97.89,244.00 99.00,244.00 100.11,244.00 101.22,244.00 102.33,244.00 103.44,244.00 104.55,244.00 105.66,244.00 106.77,244.00 107.88,244.00 108.99,244.00 110.10,244.00 111.20,244.00 112.31,244.00 113.42,244.00 114.53,244.00 115.64,244.00 116.75,244.00 117.86,244.00 118.97,244.00 120.08,244.00 121.19,244.00 122.30,244.00 123.41,244.00 124.52,244.00 125.63,244.00 126.73,244.00 127.84,244.00 128.95,244.00 130.06,244.00 131.17,244.00 132.28,244.00 133.39,244.00 134.50,244.00 135.61,244.00 136.72,244.00 137.83,244.00 138.94,244.00 140.05,244.00 141.16,244.00 142.26,244.00 143.37,244.00 144.48,244.00 145.59,244.00 146.70,244.00 147.81,244.00 148.92,244.00 150.03,244.00 151.14,244.00 152.25,244.00 153.36,244.00 154.47,244.00 155.58,244.00 156.69,244.00 157.80,244.00 158.90,244.00 160.01,244.00 161.12,244.00 162.23,244.00 163.34,244.00 164.45,244.00 165.56,244.00 166.67,244.00 167.78,244.00 168.89,243.99 170.00,243.99 171.11,243.99 172.22,243.99 173.33,243.99 174.43,243.98 175.54,243.98 176.65,243.97 177.76,243.96 178.87,243.96 179.98,243.95 181.09,243.94 182.20,243.92 183.31,243.91 184.42,243.89 185.53,243.87 186.64,243.85 187.75,243.83 188.86,243.80 189.96,243.78 191.07,243.74 192.18,243.71 193.29,243.67 194.40,243.63 195.51,243.58 196.62,243.53 197.73,243.48 198.84,243.42 199.95,243.36 201.06,243.29 202.17,243.22 203.28,243.15 204.39,243.07 205.50,242.98 206.60,242.90 207.71,242.80 208.82,242.71 209.93,242.60 211.04,242.50 212.15,242.39 213.26,242.27 214.37,242.15 215.48,242.03 216.59,241.90 217.70,241.77 218.81,241.63 219.92,241.49 221.03,241.34 222.13,241.19 223.24,241.04 224.35,240.88 225.46,240.71 226.57,240.55 227.68,240.38 228.79,240.20 229.90,240.03 231.01,239.84 232.12,239.66 233.23,239.47 234.34,239.28 235.45,239.08 236.56,238.89 237.66,238.68 238.77,238.48 239.88,238.27 240.99,238.06 242.10,237.85 243.21,237.63 244.32,237.41 245.43,237.19 246.54,236.97 247.65,236.74 248.76,236.52 249.87,236.29 250.98,236.05 252.09,235.82 253.20,235.58 254.30,235.34 255.41,235.10 256.52,234.86 257.63,234.62 258.74,234.37 259.85,234.13 260.96,233.88 262.07,233.63 263.18,233.38 264.29,233.13 265.40,232.88 266.51,232.63 267.62,232.38 268.73,232.12 269.83,231.87 270.94,231.61 272.05,231.36 273.16,231.10 274.27,230.85 275.38,230.59 276.49,230.34 277.60,230.08 278.71,229.83 279.82,229.58 280.93,229.32 282.04,229.07 283.15,228.82 284.26,228.57 285.36,228.32 286.47,228.07 287.58,227.82 288.69,227.57 289.80,227.33 290.91,227.08 292.02,226.84 293.13,226.60 294.24,226.35 295.35,226.12 296.46,225.88 297.57,225.64 298.68,225.41 299.79,225.18 300.90,224.95 302.00,224.72 303.11,224.50 304.22,224.27 305.33,224.05 306.44,223.83 307.55,223.62 308.66,223.40 309.77,223.19 310.88,222.98 311.99,222.78 313.10,222.57 314.21,222.37 315.32,222.17 316.43,221.98 317.53,221.78 318.64,221.59 319.75,221.40 320.86,221.22 321.97,221.04 323.08,220.86 324.19,220.68 325.30,220.51 326.41,220.34 327.52,220.17 328.63,220.01 329.74,219.85 330.85,219.69 331.96,219.53 333.06,219.38 334.17,219.23 335.28,219.08 336.39,218.94 337.50,218.80 338.61,218.66 339.72,218.53 340.83,218.40 341.94,218.27 343.05,218.15 344.16,218.02 345.27,217.91 346.38,217.79 347.49,217.68 348.60,217.57 349.70,217.46 350.81,217.36 351.92,217.26 353.03,217.16 354.14,217.06 355.25,216.97 356.36,216.88 357.47,216.79 358.58,216.71 359.69,216.63 360.80,216.55 361.91,216.48 363.02,216.41 364.13,216.34 365.23,216.27 366.34,216.20 367.45,216.14 368.56,216.08 369.67,216.03 370.78,215.97 371.89,215.92 373.00,215.88 374.11,215.83 375.22,215.79 376.33,215.74 377.44,215.71 378.55,215.67 379.66,215.64 380.76,215.60 381.87,215.58 382.98,215.55 384.09,215.52 385.20,215.50 386.31,215.48 387.42,215.46 388.53,215.45 389.64,215.43 390.75,215.42 391.86,215.41 392.97,215.41 394.08,215.40 395.19,215.40 396.29,215.39 397.40,215.39 398.51,215.40 399.62,215.40 400.73,215.41 401.84,215.41 402.95,215.42 404.06,215.43 405.17,215.45 406.28,215.46 407.39,215.48 408.50,215.50 409.61,215.52 410.72,215.54 411.83,215.56 412.93,215.58 414.04,215.61 415.15,215.63 416.26,215.66 417.37,215.69 418.48,215.72 419.59,215.76 420.70,215.79 421.81,215.83 422.92,215.86 424.03,215.90 425.14,215.94 426.25,215.98 427.36,216.02 428.46,216.06 429.57,216.10 430.68,216.15 431.79,216.19 432.90,216.24 434.01,216.29 435.12,216.34 436.23,216.39 437.34,216.44 438.45,216.49 439.56,216.54 440.67,216.60 441.78,216.65 442.89,216.71 443.99,216.76 445.10,216.82 446.21,216.88 447.32,216.93 448.43,216.99 449.54,217.05 450.65,217.11 451.76,217.17 452.87,217.24 453.98,217.30 455.09,217.36 456.20,217.43 457.31,217.49 458.42,217.56 459.53,217.62 460.63,217.69 461.74,217.75 462.85,217.82 463.96,217.89 465.07,217.96 466.18,218.03 467.29,218.10 468.40,218.17 469.51,218.24 470.62,218.31 471.73,218.38 472.84,218.45 473.95,218.52 475.06,218.59 476.16,218.67 477.27,218.74 478.38,218.81 479.49,218.88 480.60,218.96 481.71,219.03 482.82,219.11 483.93,219.18 485.04,219.26 486.15,219.33 487.26,219.41 488.37,219.48 489.48,219.56 490.59,219.63 491.69,219.71 492.80,219.79 493.91,219.86 495.02,219.94 496.13,220.02 497.24,220.09 498.35,220.17 499.46,220.25 500.57,220.32 501.68,220.40 502.79,220.48 503.90,220.56 505.01,220.63 506.12,220.71 507.23,220.79 508.33,220.87 509.44,220.95 510.55,221.02 511.66,221.10 512.77,221.18 513.88,221.26 514.99,221.34 516.10,221.41 517.21,221.49 518.32,221.57 519.43,221.65 520.54,221.73 521.65,221.80 522.76,221.88 523.86,221.96 524.97,222.04 526.08,222.12 527.19,222.19"/>
<polyline class="c" stroke="#bebebe" stroke-width="2.0" stroke-dasharray="6.72,6.72" points="84.58,244.00 85.69,244.00 86.80,244.00 87.91,244.00 89.02,244.00 90.13,244.00 91.24,244.00 92.35,244.00 93.46,244.00 94.56,244.00 95.67,244.00 96.78,244.00 97.89,244.00 99.00,244.00 100.11,244.00 101.22,244.00 102.33,244.00 103.44,244.00 104.55,244.00 105.66,244.00 106.77,244.00 107.88,243.99 108.99,243.98 110.10,243.95 111.20,243.90 112.31,243.82 113.42,243.69 114.53,243.51 115.64,243.26 116.75,242.94 117.86,242.53 118.97,242.03 120.08,241.42 121.19,240.69 122.30,239.83 123.41,238.82 124.52,237.67 125.63,236.34 126.73,234.83 127.84,233.14 128.95,231.25 130.06,229.17 131.17,226.89 132.28,224.42 133.39,221.77 134.50,218.96 135.61,216.00 136.72,212.91 137.83,209.71 138.94,206.42 140.05,203.06 141.16,199.67 142.26,196.25 143.37,192.84 144.48,189.45 145.59,186.11 146.70,182.83 147.81,179.62 148.92,176.51 150.03,173.51 151.14,170.62 152.25,167.86 153.36,165.24 154.47,162.75 155.58,160.41 156.69,158.22 157.80,156.18 158.90,154.28 160.01,152.54 161.12,150.94 162.23,149.50 163.34,148.19 164.45,147.02 165.56,145.99 166.67,145.10 167.78,144.33 168.89,143.68 170.00,143.15 171.11,142.73 172.22,142.42 173.33,142.21 174.43,142.10 175.54,142.08 176.65,142.15 177.76,142.29 178.87,142.52 179.98,142.81 181.09,143.17 182.20,143.60 183.31,144.08 184.42,144.61 185.53,145.20 186.64,145.83 187.75,146.51 188.86,147.22 189.96,147.97 191.07,148.75 192.18,149.56 193.29,150.39 194.40,151.25 195.51,152.14 196.62,153.04 197.73,153.95 198.84,154.88 199.95,155.83 201.06,156.78 202.17,157.75 203.28,158.72 204.39,159.69 205.50,160.68 206.60,161.66 207.71,162.64 208.82,163.63 209.93,164.62 211.04,165.60 212.15,166.58 213.26,167.56 214.37,168.54 215.48,169.51 216.59,170.47 217.70,171.43 218.81,172.39 219.92,173.33 221.03,174.27 222.13,175.20 223.24,176.12 224.35,177.04 225.46,177.94 226.57,178.84 227.68,179.72 228.79,180.60 229.90,181.47 231.01,182.32 232.12,183.17 233.23,184.01 234.34,184.84 235.45,185.65 236.56,186.46 237.66,187.26 238.77,188.04 239.88,188.82 240.99,189.58 242.10,190.34 243.21,191.08 244.32,191.81 245.43,192.54 246.54,193.25 247.65,193.95 248.76,194.65 249.87,195.33 250.98,196.00 252.09,196.66 253.20,197.32 254.30,197.96 255.41,198.59 256.52,199.22 257.63,199.83 258.74,200.44 259.85,201.04 260.96,201.62 262.07,202.20 263.18,202.77 264.29,203.33 265.40,203.88 266.51,204.43 267.62,204.96 268.73,205.49 269.83,206.01 270.94,206.52 272.05,207.02 273.16,207.52 274.27,208.00 275.38,208.48 276.49,208.96 277.60,209.42 278.71,209.88 279.82,210.33 280.93,210.77 282.04,211.21 283.15,211.64 284.26,212.06 285.36,212.48 286.47,212.89 287.58,213.29 288.69,213.69 289.80,214.08 290.91,214.46 292.02,214.84 293.13,215.21 294.24,215.58 295.35,215.94 296.46,216.30 297.57,216.65 298.68,216.99 299.79,217.33 300.90,217.67 302.00,218.00 303.11,218.32 304.22,218.64 305.33,218.96 306.44,219.27 307.55,219.57 308.66,219.87 309.77,220.17 310.88,220.46 311.99,220.74 313.10,221.03 314.21,221.31 315.32,221.58 316.43,221.85 317.53,222.11 318.64,222.38 319.75,222.63 320.86,222.89 321.97,223.14 323.08,223.39 324.19,223.63 325.30,223.87 326.41,224.10 327.52,224.34 328.63,224.57 329.74,224.79 330.85,225.01 331.96,225.23 333.06,225.45 334.17,225.66 335.28,225.87 336.39,226.08 337.50,226.28 338.61,226.48 339.72,226.68 340.83,226.88 341.94,227.07 343.05,227.26 344.16,227.44 345.27,227.63 346.38,227.81 347.49,227.99 348.60,228.17 349.70,228.34 350.81,228.51 351.92,228.68 353.03,228.85 354.14,229.01 355.25,229.18 356.36,229.34 357.47,229.49 358.58,229.65 359.69,229.80 360.80,229.95 361.91,230.10 363.02,230.25 364.13,230.40 365.23,230.54 366.34,230.68 367.45,230.82 368.56,230.96 369.67,231.09 370.78,231.23 371.89,231.36 373.00,231.49 374.11,231.62 375.22,231.75 376.33,231.87 377.44,232.00 378.55,232.12 379.66,232.24 380.76,232.36 381.87,232.47 382.98,232.59 384.09,232.71 385.20,232.82 386.31,232.93 387.42,233.04 388.53,233.15 389.64,233.26 390.75,233.36 391.86,233.47 392.97,233.57 394.08,233.67 395.19,233.77 396.29,233.87 397.40,233.97 398.51,234.07 399.62,234.16 400.73,234.26 401.84,234.35 402.95,234.44 404.06,234.53 405.17,234.62 406.28,234.71 407.39,234.80 408.50,234.88 409.61,234.97 410.72,235.05 411.83,235.14 412.93,235.22 414.04,235.30 415.15,235.38 416.26,235.46 417.37,235.54 418.48,235.62 419.59,235.70 420.70,235.77 421.81,235.85 422.92,235.92 424.03,235.99 425.14,236.07 426.25,236.14 427.36,236.21 428.46,236.28 429.57,236.35 430.68,236.41 431.79,236.48 432.90,236.55 434.01,236.61 435.12,236.68 436.23,236.74 437.34,236.81 438.45,236.87 439.56,236.93 440.67,236.99 441.78,237.05 442.89,237.11 443.99,237.17 445.10,237.23 446.21,237.29 447.32,237.35 448.43,237.40 449.54,237.46 450.65,237.52 451.76,237.57 452.87,237.63 453.98,237.68 455.09,237.73 456.20,237.79 457.31,237.84 458.42,237.89 459.53,237.94 460.63,237.99 461.74,238.04 462.85,238.09 463.96,238.14 465.07,238.19 466.18,238.23 467.29,238.28 468.40,238.33 469.51,238.37 470.62,238.42 471.73,238.46 472.84,238.51 473.95,238.55 475.06,238.60 476.16,238.64 477.27,238.68 478.38,238.72 479.49,238.77 480.60,238.81 481.71,238.85 482.82,238.89 483.93,238.93 485.04,238.97 486.15,239.01 487.26,239.05 488.37,239.09 489.48,239.12 490.59,239.16 491.69,239.20 492.80,239.24 493.91,239.27 495.02,239.31 496.13,239.35 497.24,239.38 498.35,239.42 499.46,239.45 500.57,239.49 501.68,239.52 502.79,239.55 503.90,239.59 505.01,239.62 506.12,239.65 507.23,239.69 508.33,239.72 509.44,239.75 510.55,239.78 511.66,239.81 512.77,239.84 513.88,239.87 514.99,239.90 516.10,239.93 517.21,239.96 518.32,239.99 519.43,240.02 520.54,240.05 521.65,240.08 522.76,240.11 523.86,240.14 524.97,240.17 526.08,240.19 527.19,240.22"/>
<rect class="ax" x="66.8" y="45.2" width="478.09999999999997" height="206.10000000000002"/>
<line class="ax" x1="84.51" y1="251.3" x2="84.51" y2="259.8"/>
<text class="t" x="84.51" y="280.6" text-anchor="middle">0</text>
<line class="ax" x1="158.29" y1="251.3" x2="158.29" y2="259.8"/>
<text class="t" x="158.29" y="280.6" text-anchor="middle">1</text>
<line class="ax" x1="232.07" y1="251.3" x2="232.07" y2="259.8"/>
<text class="t" x="232.07" y="280.6" text-anchor="middle">2</text>
<line class="ax" x1="305.85" y1="251.3" x2="305.85" y2="259.8"/>
<text class="t" x="305.85" y="280.6" text-anchor="middle">3</text>
<line class="ax" x1="379.63" y1="251.3" x2="379.63" y2="259.8"/>
<text class="t" x="379.63" y="280.6" text-anchor="middle">4</text>
<line class="ax" x1="453.41" y1="251.3" x2="453.41" y2="259.8"/>
<text class="t" x="453.41" y="280.6" text-anchor="middle">5</text>
<line class="ax" x1="527.19" y1="251.3" x2="527.19" y2="259.8"/>
<text class="t" x="527.19" y="280.6" text-anchor="middle">6</text>
<line class="ax" x1="66.8" y1="244.00" x2="58.3" y2="244.00"/>
<text class="t" transform="translate(47.1,244.00) rotate(-90)" text-anchor="middle">0.0</text>
<line class="ax" x1="66.8" y1="205.79" x2="58.3" y2="205.79"/>
<text class="t" transform="translate(47.1,205.79) rotate(-90)" text-anchor="middle">0.2</text>
<line class="ax" x1="66.8" y1="167.58" x2="58.3" y2="167.58"/>
<text class="t" transform="translate(47.1,167.58) rotate(-90)" text-anchor="middle">0.4</text>
<line class="ax" x1="66.8" y1="129.37" x2="58.3" y2="129.37"/>
<text class="t" transform="translate(47.1,129.37) rotate(-90)" text-anchor="middle">0.6</text>
<line class="ax" x1="66.8" y1="91.16" x2="58.3" y2="91.16"/>
<text class="t" transform="translate(47.1,91.16) rotate(-90)" text-anchor="middle">0.8</text>
<line class="ax" x1="66.8" y1="52.95" x2="58.3" y2="52.95"/>
<text class="t" transform="translate(47.1,52.95) rotate(-90)" text-anchor="middle">1.0</text>
<text x="305.85" y="18.3" text-anchor="middle" style="font-size:15.6px;font-weight:bold">PDFs of GTIRD</text>
<text class="t" x="305.85" y="313.2" text-anchor="middle">x</text>
<text class="t" transform="translate(15.3,148.25) rotate(-90)" text-anchor="middle">PDF</text>
<text class="l" x="414.8" y="82.9" text-anchor="middle">Parameters</text>
<line class="c" stroke="#000000" stroke-width="1.3" x1="351.8" y1="95.85" x2="371.8" y2="95.85"/>
<text class="l" y="99.60"><tspan x="380.4">λ</tspan><tspan x="389">=</tspan><tspan x="398.6">0.8</tspan><tspan x="416.6">,</tspan><tspan x="425.5">α</tspan><tspan x="435.3">=</tspan><tspan x="444.4">4.1</tspan><tspan x="462.9">,</tspan><tspan x="471.3">σ</tspan><tspan x="481">=</tspan><tspan x="489.8">0.6</tspan></text>
<line class="c" stroke="#ff0000" stroke-width="1.3" stroke-dasharray="3.36,3.36" x1="351.8" y1="108.80" x2="371.8" y2="108.80"/>
<text class="l" y="112.40"><tspan x="380.4">λ</tspan><tspan x="389">=</tspan><tspan x="398.6">0.7</tspan><tspan x="416.6">,</tspan><tspan x="425.5">α</tspan><tspan x="435.3">=</tspan><tspan x="444.4">2.8</tspan><tspan x="462.9">,</tspan><tspan x="471.3">σ</tspan><tspan x="481">=</tspan><tspan x="489.8">1.0</tspan></text>
<line class="c" stroke="#0000ff" stroke-width="1.3" stroke-dasharray="0.84,2.52" x1="351.8" y1="121.75" x2="371.8" y2="121.75"/>
<text class="l" y="125.20"><tspan x="380.4">λ</tspan><tspan x="389">=</tspan><tspan x="398.6">0.6</tspan><tspan x="416.6">,</tspan><tspan x="425.5">α</tspan><tspan x="435.3">=</tspan><tspan x="444.4">2.7</tspan><tspan x="462.9">,</tspan><tspan x="471.3">σ</tspan><tspan x="481">=</tspan><tspan x="489.8">1.5</tspan></text>
<line class="c" stroke="#006400" stroke-width="1.3" stroke-dasharray="0.84,2.52,3.36,2.52" x1="351.8" y1="134.70" x2="371.8" y2="134.70"/>
<text class="l" y="138.00"><tspan x="380.4">λ</tspan><tspan x="389">=</tspan><tspan x="398.6">−0.2</tspan><tspan x="423.70000000000005">,</tspan><tspan x="432.6">α</tspan><tspan x="442.40000000000003">=</tspan><tspan x="451.5">4.4</tspan><tspan x="470.0">,</tspan><tspan x="478.40000000000003">σ</tspan><tspan x="488.1">=</tspan><tspan x="496.90000000000003">0.5</tspan></text>
<line class="c" stroke="#a020f0" stroke-width="1.3" stroke-dasharray="5.88,2.52" x1="351.8" y1="147.65" x2="371.8" y2="147.65"/>
<text class="l" y="150.80"><tspan x="380.4">λ</tspan><tspan x="389">=</tspan><tspan x="398.6">−0.4</tspan><tspan x="423.70000000000005">,</tspan><tspan x="432.6">α</tspan><tspan x="442.40000000000003">=</tspan><tspan x="451.5">0.3</tspan><tspan x="470.0">,</tspan><tspan x="478.40000000000003">σ</tspan><tspan x="488.1">=</tspan><tspan x="496.90000000000003">4.7</tspan></text>
<line class="c" stroke="#ffa500" stroke-width="1.3" stroke-dasharray="1.68,1.68,5.04,1.68" x1="351.8" y1="160.60" x2="371.8" y2="160.60"/>
<text class="l" y="163.60"><tspan x="380.4">λ</tspan><tspan x="389">=</tspan><tspan x="398.6">−0.6</tspan><tspan x="423.70000000000005">,</tspan><tspan x="432.6">α</tspan><tspan x="442.40000000000003">=</tspan><tspan x="451.5">1.0</tspan><tspan x="470.0">,</tspan><tspan x="478.40000000000003">σ</tspan><tspan x="488.1">=</tspan><tspan x="496.90000000000003">5.0</tspan></text>
<line class="c" stroke="#a52a2a" stroke-width="1.3" x1="351.8" y1="173.55" x2="371.8" y2="173.55"/>
<text class="l" y="176.40"><tspan x="380.4">λ</tspan><tspan x="389">=</tspan><tspan x="398.6">−0.7</tspan><tspan x="423.70000000000005">,</tspan><tspan x="432.6">α</tspan><tspan x="442.40000000000003">=</tspan><tspan x="451.5">0.5</tspan><tspan x="470.0">,</tspan><tspan x="478.40000000000003">σ</tspan><tspan x="488.1">=</tspan><tspan x="496.90000000000003">5.7</tspan></text>
<line class="c" stroke="#bebebe" stroke-width="1.3" stroke-dasharray="3.36,3.36" x1="351.8" y1="186.50" x2="371.8" y2="186.50"/>
<text class="l" y="189.20"><tspan x="380.4">λ</tspan><tspan x="389">=</tspan><tspan x="398.6">−0.9</tspan><tspan x="423.70000000000005">,</tspan><tspan x="432.6">α</tspan><tspan x="442.40000000000003">=</tspan><tspan x="451.5">0.3</tspan><tspan x="470.0">,</tspan><tspan x="478.40000000000003">σ</tspan><tspan x="488.1">=</tspan><tspan x="496.90000000000003">2.0</tspan></text>
</svg></body></html>
